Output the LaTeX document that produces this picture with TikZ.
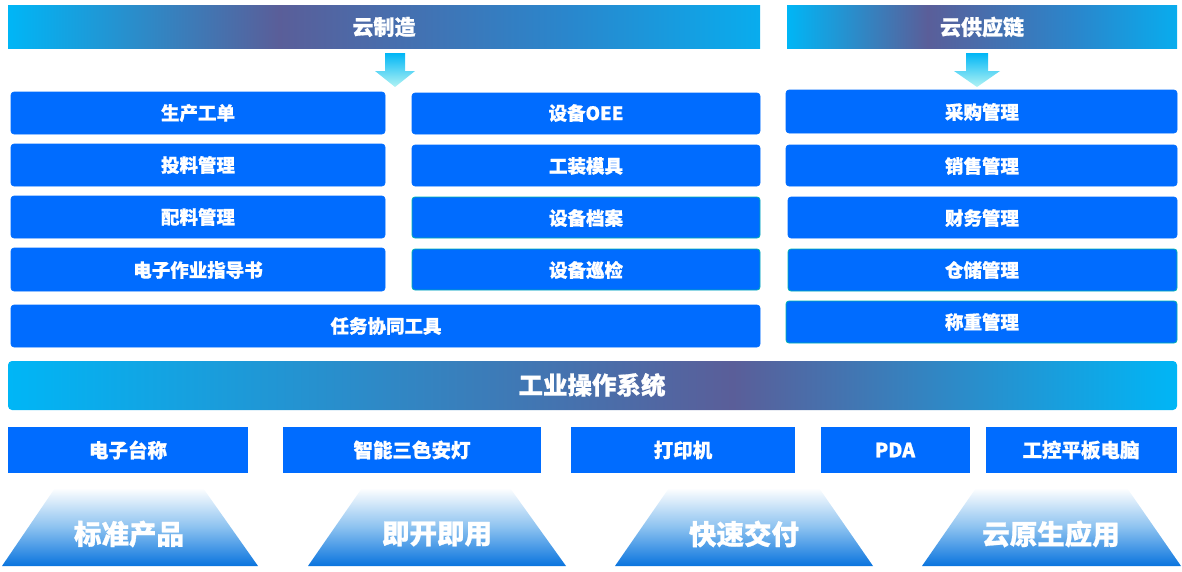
\documentclass[tikz,border=0pt]{standalone}
\usepackage{fontspec}
\setmainfont{Noto Sans CJK SC}[BoldFeatures={FakeBold=0.8}]
\definecolor{boxblue}{HTML}{006CFF}
\definecolor{bcyan}{HTML}{00B6F6}
\definecolor{bpurple}{HTML}{5A5E99}
\definecolor{bblue}{HTML}{2A86CC}
\definecolor{tblue}{HTML}{0A74DE}
\definecolor{tmid}{HTML}{8CC2F0}
\pgfdeclarehorizontalshading{topband}{100bp}{color(0bp)=(bcyan); color(25bp)=(bcyan); color(43bp)=(bpurple); color(62bp)=(bblue); color(75bp)=(bcyan!80!bblue); color(100bp)=(bcyan!80!bblue)}
\pgfdeclarehorizontalshading{osband}{100bp}{color(0bp)=(bcyan); color(25bp)=(bcyan); color(56bp)=(bpurple); color(75bp)=(bcyan); color(100bp)=(bcyan)}
\pgfdeclareverticalshading{arrowsh}{100bp}{color(0bp)=(cyan!60!teal!40!white); color(25bp)=(cyan!70!teal!30!white); color(75bp)=(bcyan); color(100bp)=(bcyan)}
\begin{document}
\begin{tikzpicture}[x=1pt,y=-1pt,
  box/.style={fill=boxblue,rounded corners=3pt,draw=boxblue,line width=0.6pt},
  tealbox/.style={fill=boxblue,rounded corners=3pt,draw=teal!60!cyan,line width=0.8pt},
  dev/.style={fill=boxblue},
  band/.style={shading=topband},
  lbl/.style={text=white,font=\bfseries\fontsize{18.5}{18.5}\selectfont,inner sep=0pt},
  dlbl/.style={text=white,font=\bfseries\fontsize{19.5}{19.5}\selectfont,inner sep=0pt},
  hlbl/.style={text=white,font=\bfseries\fontsize{21}{21}\selectfont,inner sep=0pt},
  oslbl/.style={text=white,font=\bfseries\fontsize{24.5}{24.5}\selectfont,inner sep=0pt},
  tlbl/.style={text=white,font=\bfseries\fontsize{27.5}{27.5}\selectfont,inner sep=0pt},
  trap/.style={top color=white,bottom color=tblue,middle color=tmid},
  darrow/.style={shading=arrowsh}
]
\useasboundingbox (0,0) rectangle (1182,571);
% top bands
\shade[band] (8,5) rectangle (760,48);
\node[hlbl] (mfg) at (384,27) {云制造};
\shade[band] (787,5) rectangle (1177,48);
\node[hlbl] (scm) at (982,27) {云供应链};
% arrows
\shade[darrow] (385,53) -- (405,53) -- (405,71) -- (415,71) -- (395,87) -- (375,71) -- (385,71) -- cycle;
\shade[darrow] (966,53) -- (988,53) -- (988,71) -- (1000,71) -- (977,87) -- (954,71) -- (966,71) -- cycle;
% left column
\draw[box] (11,92) rectangle (385,134); \node[lbl] (a1) at (198,113) {生产工单};
\draw[box] (11,144) rectangle (385,186); \node[lbl] (a2) at (198,165) {投料管理};
\draw[box] (11,196) rectangle (385,238); \node[lbl] (a3) at (198,217) {配料管理};
\draw[box] (11,248) rectangle (385,291); \node[lbl] (a4) at (198,270) {电子作业指导书};
% middle column
\draw[box] (412,93) rectangle (760,134); \node[lbl] (b1) at (586,113) {设备OEE};
\draw[box] (412,145) rectangle (760,186); \node[lbl] (b2) at (586,166) {工装模具};
\draw[tealbox] (412,197) rectangle (760,238); \node[lbl] (b3) at (586,218) {设备档案};
\draw[tealbox] (412,249) rectangle (760,290); \node[lbl] (b4) at (586,270) {设备巡检};
\draw[box] (11,305) rectangle (760,347); \node[lbl] (b5) at (386,326) {任务协同工具};
% right column
\draw[box] (786,90) rectangle (1177,133); \node[lbl] (c1) at (982,112) {采购管理};
\draw[box] (786,145) rectangle (1177,186); \node[lbl] (c2) at (982,166) {销售管理};
\draw[box] (788,197) rectangle (1177,238); \node[lbl] (c3) at (982,218) {财务管理};
\draw[tealbox] (788,249) rectangle (1177,291); \node[lbl] (c4) at (982,270) {仓储管理};
\draw[tealbox] (786,301) rectangle (1177,343); \node[lbl] (c5) at (982,322) {称重管理};
% OS band
\shade[shading=osband,rounded corners=4pt] (8,361) rectangle (1177,410);
\node[oslbl] (os) at (592,385) {工业操作系统};
% devices
\fill[dev] (8,427) rectangle (248,473); \node[dlbl] (d1) at (128,450) {电子台称};
\fill[dev] (283,427) rectangle (541,473); \node[dlbl] (d2) at (412,450) {智能三色安灯};
\fill[dev] (571,427) rectangle (795,473); \node[dlbl] (d3) at (683,450) {打印机};
\fill[dev] (821,427) rectangle (970,473); \node[dlbl] (d4) at (895,450) {PDA};
\fill[dev] (986,427) rectangle (1177,473); \node[dlbl] (d5) at (1081,450) {工控平板电脑};
% trapezoids
\shade[trap] (55,488) -- (203,488) -- (258,566) -- (2,566) -- cycle;
\node[tlbl] (t1) at (129,534) {标准产品};
\shade[trap] (362,488) -- (510,488) -- (566,566) -- (308,566) -- cycle;
\node[tlbl] (t2) at (437,534) {即开即用};
\shade[trap] (669,488) -- (819,488) -- (873,566) -- (615,566) -- cycle;
\node[tlbl] (t3) at (744,534) {快速交付};
\shade[trap] (976,488) -- (1127,488) -- (1181,566) -- (922,566) -- cycle;
\node[tlbl] (t4) at (1051,534) {云原生应用};
\end{tikzpicture}
\end{document}
